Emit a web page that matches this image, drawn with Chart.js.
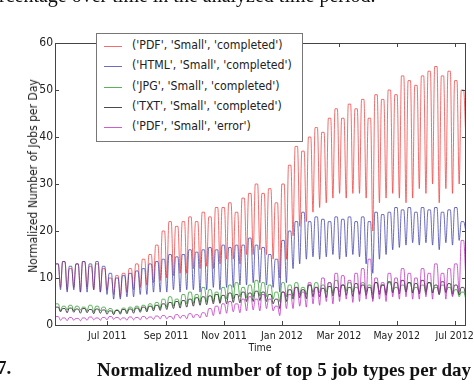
<!DOCTYPE html>
<html>
<head>
<meta charset="utf-8">
<script src="https://cdn.jsdelivr.net/npm/chart.js@4"></script>
<style>
  body { margin: 0; background: #fff; }
  #wrap { position: relative; width: 474px; height: 384px; overflow: hidden; background: #fff; }
  #chart { position: absolute; left: 0; top: 0; }
  .txt { position: absolute; white-space: nowrap; color: #111; }
  #topline { left: -1px; top: -15px; font: 20px 'Liberation Serif', serif; line-height: 21px; }
  #caption { left: 97px; top: 359px; font: bold 19px 'Liberation Serif', serif; }
  #fig { left: -3px; top: 357px; font: bold 19px 'Liberation Serif', serif; }
  #ytitle { left: 33px; top: 176px; transform: translate(-50%, -50%) rotate(-90deg);
            font: 12px 'DejaVu Sans Condensed', 'DejaVu Sans', sans-serif; color: #222; }
  #xtitle { left: 260px; top: 347px; transform: translate(-50%, -50%);
            font: 10.5px 'DejaVu Sans Condensed', 'DejaVu Sans', sans-serif; color: #222; }
  #legend { position: absolute; left: 96px; top: 33px; width: 207px; height: 109px;
            box-sizing: border-box; border: 1px solid #777; background: #fff; }
  .row { position: absolute; left: 0; height: 16px; }
  .row span.ln { position: absolute; left: 7px; top: 8px; width: 18px; height: 0; border-top: 1px solid; }
  .row span.lb { position: absolute; left: 35px; top: 0; line-height: 16px;
                 font: 12.2px 'DejaVu Sans Condensed', 'DejaVu Sans', sans-serif; color: #222; white-space: nowrap; }
</style>
</head>
<body>
<div id="wrap">
  <canvas id="chart" width="474" height="384"></canvas>
  <div class="txt" id="topline">rcentage over time in the analyzed time period.</div>
  <div class="txt" id="ytitle">Normalized Number of Jobs per Day</div>
  <div class="txt" id="xtitle">Time</div>
  <div class="txt" id="fig">7.</div>
  <div class="txt" id="caption">Normalized number of top 5 job types per day</div>
  <div id="legend"></div>
</div>
<script>
// day 0 = 7 May 2011, one entry per week
const tickDays = [55, 117, 178, 239, 299, 360, 421];
const tickLabels = ['Jul 2011', 'Sep 2011', 'Nov 2011', 'Jan 2012', 'Mar 2012', 'May 2012', 'Jul 2012'];

const seriesNames = ["('PDF', 'Small', 'completed')", "('HTML', 'Small', 'completed')",
  "('JPG', 'Small', 'completed')", "('TXT', 'Small', 'completed')", "('PDF', 'Small', 'error')"];
const seriesColors = ['rgba(240,60,60,0.75)', 'rgba(60,60,170,0.75)', 'rgba(40,150,40,0.75)',
  'rgba(30,30,30,0.8)', 'rgba(190,40,190,0.75)'];

// weekly highs (weekdays) and lows (weekends)
const pdfPeak = [
  13, 13.5, 12, 13, 13.5, 12.5, 13, 12,
  10, 10.5, 11, 12, 13, 14, 15, 17,
  20, 22, 21, 22, 23, 22, 24, 23,
  25, 25, 26, 24, 27, 28, 30, 28,
  29, 26, 30, 34, 38, 37, 40, 42,
  41, 44, 46, 44, 47, 46, 48, 44,
  49, 48, 50, 49, 53, 52, 51, 53,
  54, 55, 53, 54, 52, 50];
const pdfLow = [
  8, 7.5, 8, 7, 8, 7.5, 7, 7.5,
  6.5, 6, 7, 7.5, 8, 8.5, 9, 9.5,
  10, 10.5, 11, 11, 12, 12, 12.5, 12,
  13, 14, 14, 13, 15, 15, 16, 15,
  14, 10, 14, 19, 21, 22, 24, 25,
  26, 27, 28, 27, 28, 28, 27, 20,
  26, 27, 28, 27, 26, 27, 29, 28,
  30, 26, 29, 28, 30, 40];

const htmlPeak = [
  13, 13.5, 12.5, 13, 13.5, 13, 13.5, 12.5,
  11, 10, 10.5, 11, 11.5, 12, 13, 13.5,
  14, 15, 14.5, 15, 16, 15.5, 16, 16.5,
  16, 17, 16.5, 17, 17, 18.5, 17, 16.5,
  15, 14, 18, 20, 22, 24, 22, 23,
  22.5, 22, 23, 22.5, 23, 22, 23, 22,
  24, 23.5, 24, 25, 24.5, 25, 24, 25,
  24.5, 25, 24, 24.5, 25, 22];
const htmlLow = [
  7.5, 7, 7.5, 7, 7, 7.5, 7, 6.5,
  5.5, 5.5, 6, 6, 6.5, 6.5, 7, 7,
  7, 7.5, 7, 7.5, 7.5, 7, 7.5, 8,
  7.5, 8, 8, 8.5, 8.5, 9, 9, 8.5,
  8, 7, 9, 12, 13, 14, 14.5, 14,
  14.5, 15, 14, 14.5, 15, 14.5, 13, 11,
  14, 15, 16, 16.5, 17, 17.5, 17, 17.5,
  17, 16, 17.5, 17, 18, 20];

const jpgPeak = [
  4.5, 4, 4.2, 4, 3.8, 4.2, 4, 3.8,
  3.5, 3.2, 3.6, 3.8, 4, 4.2, 4.5, 4.8,
  5.5, 6, 5.5, 6.5, 7, 6.5, 8, 7.5,
  7, 8, 8.5, 9, 8, 8.5, 9.5, 9,
  8.5, 7, 9, 8.5, 9, 8, 8.5, 9,
  8.5, 9, 9.5, 8.5, 9, 8, 9, 8.5,
  9, 8.5, 9, 8, 8.5, 9, 8, 8.5,
  9, 8, 8.5, 8, 7.5, 7];
const jpgLow = [
  3, 3.2, 3, 3.2, 3, 2.8, 3, 2.8,
  2.5, 2.6, 2.8, 3, 3, 3.2, 3.4, 3.5,
  3.8, 4, 4.2, 4.5, 4.6, 4.8, 5, 5,
  5, 5.5, 5.5, 6, 5.8, 6, 6.2, 6,
  5.5, 5, 6, 6.2, 6.5, 6.5, 7, 6.8,
  7, 6.8, 7, 7.2, 7, 6.8, 7, 6.5,
  7, 6.8, 7, 7.2, 7, 6.8, 7, 6.5,
  6.8, 6.5, 6.8, 6.2, 6, 5.5];

const txtPeak = [
  3.8, 3.5, 3.6, 3.4, 3.5, 3.3, 3.4, 3.2,
  3, 3.1, 3.3, 3.4, 3.6, 3.8, 4, 4.2,
  4.5, 4.8, 5, 5.2, 5.5, 5.8, 6, 6.2,
  6.5, 6.3, 6.8, 6.5, 7, 6.8, 7.2, 7,
  6.5, 5.5, 7, 7.5, 8, 7.5, 8.5, 8,
  7.8, 8.2, 8, 8.5, 8, 8.8, 8.5, 8,
  9, 8.5, 9.2, 9, 9.5, 9, 8.8, 9.5,
  9, 8.5, 9.2, 8.8, 8.5, 8];
const txtLow = [
  2.8, 2.6, 2.7, 2.5, 2.6, 2.4, 2.5, 2.3,
  2.2, 2.3, 2.4, 2.5, 2.7, 2.8, 3, 3.1,
  3.3, 3.5, 3.6, 3.8, 4, 4.2, 4.3, 4.5,
  4.6, 4.5, 4.8, 4.7, 5, 5, 5.2, 5,
  4.5, 3.5, 5, 5.5, 5.8, 5.6, 6, 6,
  5.8, 6.2, 6, 6.3, 6.1, 6.5, 6.3, 5.5,
  6.5, 6.3, 6.8, 6.6, 7, 6.8, 6.6, 7,
  6.8, 6.5, 7, 6.6, 6.4, 6];

const errPeak = [
  1.8, 1.5, 1.6, 1.4, 1.5, 1.7, 1.5, 1.6,
  1.8, 1.6, 1.5, 1.7, 1.6, 1.8, 1.7, 1.9,
  2, 1.8, 2.2, 2, 2.4, 2.2, 2.6, 3.5,
  4, 4.5, 5, 4.5, 5.5, 6, 5.5, 6.5,
  5.5, 4, 7, 6.5, 8, 7, 9, 8,
  10, 9, 11, 10.5, 9.5, 11, 12, 14,
  10, 9, 11, 10, 12, 11, 10, 12,
  11, 13, 11, 12, 13, 18];
const errLow = [
  1, 0.9, 1, 0.9, 1, 1.1, 1, 1.1,
  1.2, 1.1, 1, 1.1, 1.1, 1.2, 1.2, 1.3,
  1.3, 1.2, 1.4, 1.3, 1.5, 1.5, 1.7, 2,
  2.3, 2.5, 2.8, 2.6, 3, 3.2, 3, 3.5,
  3, 2, 3.5, 3.5, 4, 3.8, 4.5, 4.2,
  5, 4.5, 5, 5.5, 4.8, 5, 5.5, 5,
  5.5, 5, 6, 5.5, 6, 5.5, 5.5, 6,
  5.5, 6.5, 5.5, 6, 7, 10];

const peaks = [pdfPeak, htmlPeak, jpgPeak, txtPeak, errPeak];
const lows = [pdfLow, htmlLow, jpgLow, txtLow, errLow];

// two weekday points and one weekend point per week
function weekPoints(hi, lo) {
  const pts = [];
  for (let w = 0; w < hi.length; w++) {
    pts.push({ x: w * 7 + 1, y: hi[w] });
    pts.push({ x: w * 7 + 3.5, y: hi[w] });
    pts.push({ x: w * 7 + 5.8, y: lo[w] });
  }
  return pts;
}

const datasets = seriesNames.map((name, i) => ({
  label: name,
  data: weekPoints(peaks[i], lows[i]),
  borderColor: seriesColors[i],
  borderWidth: 1,
  pointRadius: 0,
  cubicInterpolationMode: 'monotone',
  order: 5 - i
}));

// legend
const legend = document.getElementById('legend');
seriesNames.forEach((name, i) => {
  const row = document.createElement('div');
  row.className = 'row';
  row.style.top = (4 + i * 20.3) + 'px';
  row.innerHTML = '<span class="ln" style="border-color:' + seriesColors[i] + '"></span><span class="lb"></span>';
  row.querySelector('.lb').textContent = name;
  legend.appendChild(row);
});

// frame and inward ticks like matplotlib
const framePlugin = {
  id: 'frame',
  afterDatasetsDraw(chart) {
    const { ctx, chartArea: a, scales } = chart;
    ctx.save();
    ctx.strokeStyle = '#444';
    ctx.lineWidth = 1;
    ctx.strokeRect(Math.round(a.left) + 0.5, Math.round(a.top) + 0.5,
      Math.round(a.right - a.left) - 1, Math.round(a.bottom - a.top));
    ctx.beginPath();
    tickDays.forEach(d => {
      const x = Math.round(scales.x.getPixelForValue(d)) + 0.5;
      ctx.moveTo(x, a.bottom); ctx.lineTo(x, a.bottom - 4);
      ctx.moveTo(x, a.top); ctx.lineTo(x, a.top + 4);
    });
    for (let v = 10; v < 60; v += 10) {
      const y = Math.round(scales.y.getPixelForValue(v)) + 0.5;
      ctx.moveTo(a.left, y); ctx.lineTo(a.left + 4, y);
      ctx.moveTo(a.right, y); ctx.lineTo(a.right - 4, y);
    }
    ctx.stroke();
    ctx.restore();
  }
};

new Chart(document.getElementById('chart'), {
  type: 'line',
  data: { datasets },
  options: {
    responsive: false,
    animation: false,
    devicePixelRatio: 1,
    layout: { padding: { top: 43, right: 8, left: 0, bottom: 0 } },
    plugins: { legend: { display: false }, tooltip: { enabled: false } },
    scales: {
      x: {
        type: 'linear',
        min: 0,
        max: 433,
        grid: { display: false, drawTicks: false },
        border: { display: false },
        afterBuildTicks: (scale) => { scale.ticks = tickDays.map(v => ({ value: v })); },
        afterFit: (scale) => { scale.height = 59; scale.paddingLeft = 0; scale.paddingRight = 0; },
        ticks: {
          autoSkip: false,
          maxRotation: 0,
          padding: 5,
          color: '#222',
          font: { family: "'DejaVu Sans Condensed', 'DejaVu Sans', sans-serif", size: 10.5 },
          callback: (v) => tickLabels[tickDays.indexOf(v)] || ''
        }
      },
      y: {
        min: 0,
        max: 60,
        grid: { display: false, drawTicks: false },
        border: { display: false },
        afterFit: (scale) => { scale.width = 55; scale.paddingTop = 0; scale.paddingBottom = 0; },
        ticks: {
          stepSize: 10,
          padding: 2,
          color: '#222',
          font: { family: "'DejaVu Sans Condensed', 'DejaVu Sans', sans-serif", size: 12 }
        }
      }
    }
  },
  plugins: [framePlugin]
});
</script>
</body>
</html>
